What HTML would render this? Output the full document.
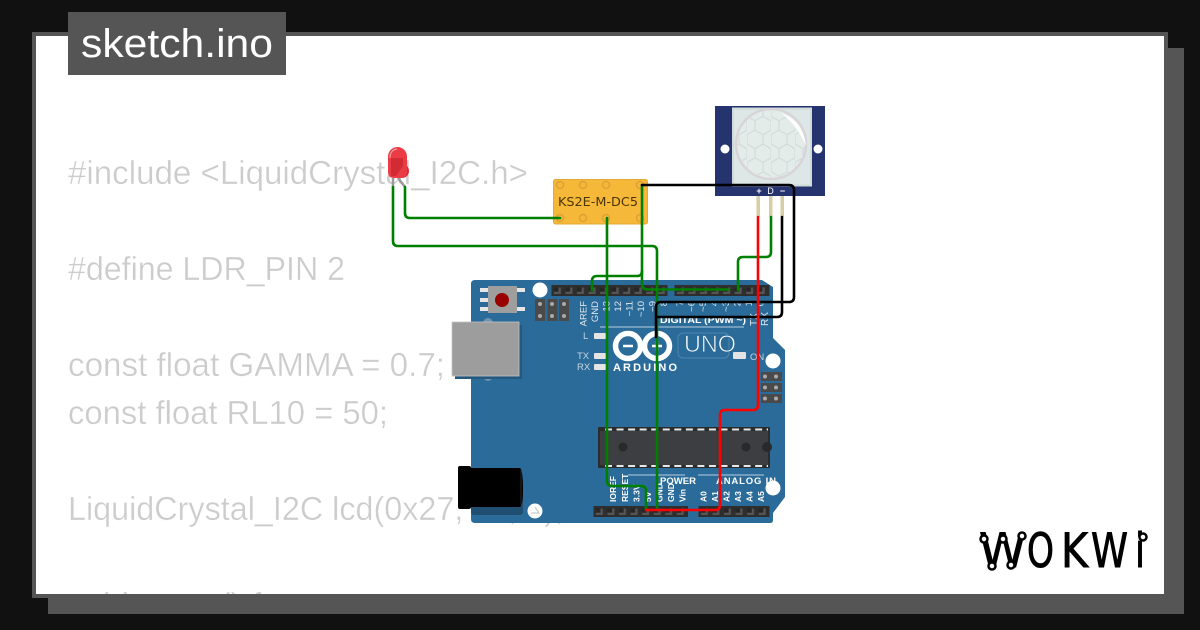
<!DOCTYPE html>
<html><head><meta charset="utf-8"><style>
html,body{margin:0;padding:0;background:#111;width:1200px;height:630px;overflow:hidden}
svg{display:block}
.code{font-family:"Liberation Sans",sans-serif;font-size:33px;fill:#ccc;stroke:#fff;stroke-width:.35px}
.lbl{font-family:"Liberation Sans",sans-serif;font-size:9.5px;fill:#dfe8ef}
.bot{font-family:"Liberation Sans",sans-serif;font-size:8.5px;font-weight:bold;fill:#fff}
.bold{font-family:"Liberation Sans",sans-serif;font-weight:bold;fill:#fff}
.logo{font-family:"DejaVu Sans",sans-serif;font-size:47px;fill:#000;stroke:#000;stroke-width:.9px}
.w{fill:none;stroke-width:2.6;stroke-linejoin:round;stroke-linecap:round}
</style></head><body>
<svg width="1200" height="630" viewBox="0 0 1200 630" xmlns="http://www.w3.org/2000/svg">
<defs>
<clipPath id="inner"><rect x="36" y="36" width="1128" height="558"/></clipPath>
<clipPath id="lens"><circle cx="771" cy="144" r="34"/></clipPath>
<pattern id="hex" x="771" y="144" width="24" height="27.700" patternUnits="userSpaceOnUse">
<path d="M0 0L8 4.600V13.850L0 18.450M8 4.600L16 0M16 0L24 4.600M8 13.850L16 18.450V27.700M16 18.450L24 13.850M0 18.450V27.700M24 4.600V13.850" fill="none" stroke="#cfd9d8" stroke-width="1"/>
</pattern>
<pattern id="pinsA" x="551.5" y="285" width="11.55" height="11" patternUnits="userSpaceOnUse">
<rect width="11.55" height="11" fill="#2e2e2e"/><rect x="2.4" y="2.5" width="7" height="6.5" fill="#555"/><rect x="2.4" y="2.5" width="4.6" height="4.2" fill="#262626"/>
</pattern>
<pattern id="pinsB" x="674.5" y="285" width="11.55" height="11" patternUnits="userSpaceOnUse">
<rect width="11.55" height="11" fill="#2e2e2e"/><rect x="2.4" y="2.5" width="7" height="6.5" fill="#555"/><rect x="2.4" y="2.5" width="4.6" height="4.2" fill="#262626"/>
</pattern>
<pattern id="pinsC" x="593.5" y="506" width="11.55" height="11" patternUnits="userSpaceOnUse">
<rect width="11.55" height="11" fill="#2e2e2e"/><rect x="2.4" y="2.5" width="7" height="6.5" fill="#555"/><rect x="2.4" y="2.5" width="4.6" height="4.2" fill="#262626"/>
</pattern>
<pattern id="pinsD" x="698.5" y="506" width="11.55" height="11" patternUnits="userSpaceOnUse">
<rect width="11.55" height="11" fill="#2e2e2e"/><rect x="2.4" y="2.5" width="7" height="6.5" fill="#555"/><rect x="2.4" y="2.5" width="4.6" height="4.2" fill="#262626"/>
</pattern>
</defs>

<rect width="1200" height="630" fill="#111"/>
<rect x="48" y="48" width="1136" height="566" fill="#555"/>
<rect x="32" y="32" width="1136" height="566" fill="#555"/>
<rect x="36" y="36" width="1128" height="558" fill="#fff"/>

<g clip-path="url(#inner)" class="code">
<text x="68" y="184" textLength="460" lengthAdjust="spacingAndGlyphs">#include &lt;LiquidCrystal_I2C.h&gt;</text>
<text x="68" y="280" textLength="277" lengthAdjust="spacingAndGlyphs">#define LDR_PIN 2</text>
<text x="68" y="376" textLength="377" lengthAdjust="spacingAndGlyphs">const float GAMMA = 0.7;</text>
<text x="68" y="424" textLength="320" lengthAdjust="spacingAndGlyphs">const float RL10 = 50;</text>
<text x="68" y="520" textLength="496" lengthAdjust="spacingAndGlyphs">LiquidCrystal_I2C lcd(0x27, 16, 2);</text>
<text x="68" y="616" textLength="194" lengthAdjust="spacingAndGlyphs">void setup() {</text>
</g>

<!-- title -->
<rect x="68" y="12" width="218" height="63" fill="#555"/>
<text x="81" y="57" font-family="Liberation Sans,sans-serif" font-size="40" fill="#fff" textLength="192" lengthAdjust="spacingAndGlyphs">sketch.ino</text>

<!-- board -->
<path d="M475 280H762L773 287V338L785 350V497L773 513V520Q773 523 770 523H475Q471 523 471 519V284Q471 280 475 280Z" fill="#2b6b99"/>

<!-- headers -->
<rect x="551.5" y="285" width="116" height="11" fill="url(#pinsA)"/>
<rect x="674.5" y="285" width="95" height="11" fill="url(#pinsB)"/>
<rect x="593.5" y="506" width="94.5" height="11" fill="url(#pinsC)"/>
<rect x="698.5" y="506" width="71" height="11" fill="url(#pinsD)"/>

<!-- reset -->
<g fill="#e6e6e6">
<rect x="480" y="288" width="9" height="4"/><rect x="480" y="298" width="9" height="4"/><rect x="480" y="307" width="9" height="4"/>
<rect x="516" y="288" width="9" height="4"/><rect x="516" y="307" width="9" height="4"/>
</g>
<rect x="488" y="286" width="29" height="27" fill="#9e9e9e"/>
<circle cx="502" cy="300" r="7" fill="#990000"/>
<circle cx="540" cy="290" r="7.5" fill="#fff"/>

<!-- ICSP top -->
<g fill="#4a4a4a"><rect x="535" y="299" width="10" height="22"/><rect x="547.500" y="299" width="10" height="22"/><rect x="559" y="299" width="10" height="22"/></g>
<g fill="#aaa"><circle cx="540" cy="304" r="2"/><circle cx="540" cy="316" r="2"/><circle cx="552" cy="304" r="2"/><circle cx="552" cy="316" r="2"/><circle cx="564" cy="304" r="2"/><circle cx="564" cy="316" r="2"/></g>

<!-- USB -->
<circle cx="488" cy="323" r="5" fill="#6f93ad"/><circle cx="488" cy="376" r="5" fill="#6f93ad"/>
<rect x="455" y="325" width="67" height="54" fill="#24587f"/>
<rect x="452" y="322" width="67" height="54" fill="#9d9d9d" stroke="#c4c4c4" stroke-width="0.8"/>

<!-- jack -->
<rect x="471" y="480" width="52" height="35" rx="3" fill="#204e70"/>
<rect x="458" y="466" width="13" height="43" rx="2" fill="#000"/>
<path d="M470 468H520Q523 470 523 490Q523 505 520 507H470Z" fill="#000"/>
<path d="M521 470V505" stroke="#333" stroke-width="0.8"/>
<circle cx="535" cy="511" r="7.500" fill="#fff"/>
<path d="M531 513H539L535 507" stroke="#ccc" stroke-width="1.200" fill="none"/>

<!-- mount holes -->
<circle cx="773" cy="361" r="7.500" fill="#fff"/>
<circle cx="773" cy="488" r="7.500" fill="#fff"/>

<!-- ICSP right -->
<g fill="#4a4a4a"><rect x="761" y="372" width="21" height="9"/><rect x="761" y="383" width="21" height="9"/><rect x="761" y="394" width="21" height="9"/></g>
<g fill="#aaa"><circle cx="765" cy="376.500" r="2"/><circle cx="776" cy="376.500" r="2"/><circle cx="765" cy="387.500" r="2"/><circle cx="776" cy="387.500" r="2"/><circle cx="765" cy="398.500" r="2"/><circle cx="776" cy="398.500" r="2"/></g>

<!-- LEDs -->
<g fill="#e4e4e4"><rect x="594" y="333" width="12" height="6" rx="1"/><rect x="594" y="353" width="12" height="6" rx="1"/><rect x="594" y="364" width="12" height="6" rx="1"/><rect x="733" y="352" width="13" height="7" rx="1"/></g>
<g font-family="Liberation Sans,sans-serif" font-size="9.500" fill="#c6d6e2">
<text x="583" y="339">L</text><text x="577" y="359">TX</text><text x="577" y="370">RX</text><text x="750" y="360" font-size="9.500">ON</text>
</g>

<!-- logo -->
<g fill="none" stroke="#fff" stroke-width="5.500">
<circle cx="628" cy="346" r="12.500"/><circle cx="657" cy="346" r="12.500"/>
</g>
<path d="M623 346H633M652 346H662M657 341V351" stroke="#fff" stroke-width="2.500"/>
<text x="613" y="371" class="bold" font-size="11" letter-spacing="1" textLength="65" lengthAdjust="spacing">ARDUINO</text>
<rect x="678" y="333" width="51" height="25" rx="5" fill="none" stroke="#4d86ad" stroke-width="1"/>
<text x="684" y="352" font-family="Liberation Sans,sans-serif" font-size="24" fill="#fff" stroke="#2b6b99" stroke-width=".8" textLength="52" lengthAdjust="spacingAndGlyphs">UNO</text>

<!-- top labels -->
<g class="lbl" text-anchor="end">
<text transform="translate(586.500,301) rotate(-90)">AREF</text>
<text transform="translate(598,301) rotate(-90)">GND</text>
<text transform="translate(609.500,301) rotate(-90)">13</text>
<text transform="translate(621,301) rotate(-90)">12</text>
<text transform="translate(632.500,301) rotate(-90)">~11</text>
<text transform="translate(644,301) rotate(-90)">~10</text>
<text transform="translate(655.500,301) rotate(-90)">~9</text>
<text transform="translate(667,301) rotate(-90)">8</text>
<text transform="translate(683,301) rotate(-90)">7</text>
<text transform="translate(694.500,301) rotate(-90)">~6</text>
<text transform="translate(706,301) rotate(-90)">~5</text>
<text transform="translate(717.500,301) rotate(-90)">4</text>
<text transform="translate(729,301) rotate(-90)">~3</text>
<text transform="translate(740.500,301) rotate(-90)">2</text>
<text transform="translate(752,301) rotate(-90)">1</text>
<text transform="translate(763.500,301) rotate(-90)">0</text>
</g>
<g class="lbl">
<text transform="translate(757,326) rotate(-90)" font-size="10">TX</text>
<text transform="translate(768,326) rotate(-90)" font-size="10">RX</text>
</g>
<path d="M600 327H744" stroke="#b8cddd" stroke-width="1" fill="none"/>
<text x="660" y="323" class="bold" font-size="9.500" textLength="86" lengthAdjust="spacingAndGlyphs">DIGITAL (PWM ~)</text>

<!-- IC -->
<rect x="598" y="427" width="172" height="41" rx="1" fill="#2a2c2e"/>
<rect x="600" y="431" width="168" height="34" fill="#3c3e41"/>
<g stroke="#e8e8e8" stroke-width="2" stroke-dasharray="7 4.550">
<path d="M605 429.500H768"/><path d="M605 466H768"/>
</g>
<circle cx="623" cy="447" r="4.500" fill="#28292b"/>
<circle cx="746" cy="447" r="4.500" fill="#28292b"/>
<circle cx="767" cy="447" r="5" fill="#28292b"/>

<!-- bottom labels -->
<g class="bot">
<text transform="translate(616,502) rotate(-90)">IOREF</text>
<text transform="translate(628,502) rotate(-90)">RESET</text>
<text transform="translate(639.500,502) rotate(-90)">3.3V</text>
<text transform="translate(651,502) rotate(-90)">5V</text>
<text transform="translate(662.500,502) rotate(-90)">GND</text>
<text transform="translate(674,502) rotate(-90)">GND</text>
<text transform="translate(685.500,502) rotate(-90)">Vin</text>
<text transform="translate(706.500,502) rotate(-90)">A0</text>
<text transform="translate(718,502) rotate(-90)">A1</text>
<text transform="translate(729.500,502) rotate(-90)">A2</text>
<text transform="translate(741,502) rotate(-90)">A3</text>
<text transform="translate(752.500,502) rotate(-90)">A4</text>
<text transform="translate(764,502) rotate(-90)">A5</text>
</g>
<path d="M628 475H685M698 475H764" stroke="#b8cddd" stroke-width="1" fill="none"/>
<text x="660" y="484" class="bold" font-size="9.500" textLength="36" lengthAdjust="spacing">POWER</text>
<text x="716" y="484" class="bold" font-size="9.500" textLength="60" lengthAdjust="spacing">ANALOG IN</text>

<!-- PIR -->
<rect x="715" y="106" width="110" height="90" fill="#25336f"/>
<rect x="732" y="107.500" width="80" height="79" fill="#dde7e6"/>
<rect x="733" y="108.500" width="78" height="77" fill="none" stroke="#cfdad9" stroke-width="2"/>
<circle cx="771" cy="144" r="35" fill="#e4ecea" stroke="#d8d4d8" stroke-width="2.500"/>
<rect x="735" y="108" width="72" height="72" fill="url(#hex)" clip-path="url(#lens)"/>
<path d="M781 113Q803 120 806 146Q797 125 781 113Z" fill="#fff"/>
<circle cx="725" cy="149" r="4.500" fill="#fff"/>
<circle cx="818" cy="149" r="4.500" fill="#fff"/>
<g fill="#d6cea5"><rect x="756.500" y="196" width="3.500" height="21"/><rect x="769" y="196" width="3.500" height="21"/><rect x="780.500" y="196" width="3.500" height="21"/></g>
<g font-family="Liberation Sans,sans-serif" font-size="9" fill="#fff" text-anchor="middle">
<text x="759" y="194" font-weight="bold">+</text><text x="770.500" y="194">D</text><text x="782.500" y="194" font-weight="bold">−</text>
</g>

<!-- LED -->
<path d="M393 178V188M398 178L405 187" stroke="#9a9a9a" stroke-width="2.500" fill="none"/>
<circle cx="402" cy="171" r="7" fill="#d92b30"/>
<path d="M388 156.500A9.500 9.500 0 0 1 407 156.500V172Q407 178 401 178H394Q388 178 388 172Z" fill="#ea3c44"/>
<path d="M391 158H403V166L396 176H391Z" fill="#c9262d" opacity=".75"/>
<path d="M390 158Q390 150 397 149" stroke="#f79aa0" stroke-width="1.200" fill="none"/>

<!-- relay -->
<rect x="553.500" y="179.500" width="94" height="44.500" rx="2" fill="#f6b838" stroke="#e2a838" stroke-width="1"/>
<g fill="none" stroke="#dca238" stroke-width="1.500">
<circle cx="560" cy="185" r="3.500"/><circle cx="583" cy="185" r="3.500"/><circle cx="606" cy="185" r="3.500"/><circle cx="640" cy="185" r="3.500"/>
<circle cx="560" cy="218" r="3.500"/><circle cx="583" cy="218" r="3.500"/><circle cx="606" cy="218" r="3.500"/><circle cx="640" cy="218" r="3.500"/>
</g>
<text x="558" y="206" font-family="DejaVu Sans,sans-serif" font-size="12" fill="#4a3608" textLength="80" lengthAdjust="spacingAndGlyphs">KS2E-M-DC5</text>

<!-- wires -->
<g class="w" stroke="#008000">
<path d="M405 187V213Q405 218 410 218H560"/>
<path d="M393 187V241Q393 246 398 246H652Q657 246 657 251V510"/>
<path d="M607 218V481Q607 486 612 486H641Q646 486 646 491V510"/>
<path d="M642 185V284Q642 289 647 289.500H728"/>
<path d="M642 271Q642 276 637 276H597Q592 276 592 281V290"/>
<path d="M771 217V252Q771 257 766 257H743Q738 257 738 262V290"/>
</g>
<g class="w" stroke="#000">
<path d="M642 185H789Q794 185 794 190V297Q794 302 789 302H661Q656 302 656 307V337"/>
<path d="M782 217V312Q782 317 777 317H658"/>
</g>
<g class="w" stroke="#f00">
<path d="M758 217V405Q758 410 753 410H725Q720 410 720 415V505Q720 510 715 510H646"/>
</g>

<!-- wokwi logo -->
<g class="logo">
<text x="979" y="567" textLength="47" lengthAdjust="spacingAndGlyphs">W</text>
<text x="1027" y="567" textLength="27" lengthAdjust="spacingAndGlyphs">O</text>
<text x="1061" y="567" textLength="27" lengthAdjust="spacingAndGlyphs">K</text>
<text x="1091" y="567" textLength="37" lengthAdjust="spacingAndGlyphs">W</text>
<text x="1135" y="567" textLength="10" lengthAdjust="spacingAndGlyphs">i</text>
</g>
<g fill="#fff" stroke="#000" stroke-width="2.500">
<circle cx="984" cy="539" r="3.500"/><circle cx="1003" cy="539" r="3.500"/><circle cx="1022" cy="536" r="3.500"/><circle cx="992" cy="566" r="3.500"/><circle cx="1011" cy="565" r="3.500"/><circle cx="1143" cy="537" r="3.500"/>
</g>
</svg>
</body></html>
